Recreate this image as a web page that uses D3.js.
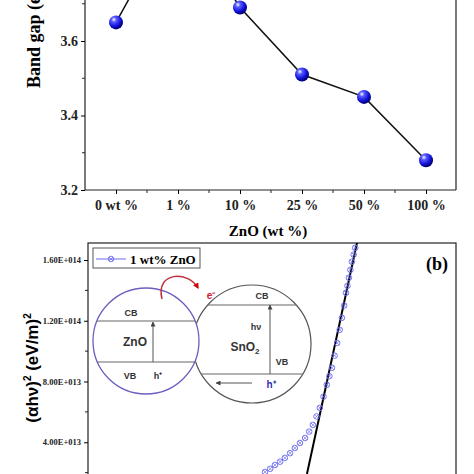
<!DOCTYPE html><html><head><meta charset="utf-8">
<script src="https://cdn.jsdelivr.net/npm/d3@7"></script>
<style>body{margin:0;background:#fff}</style></head><body><svg id="c" width="474" height="474"></svg>
<script>
const categories=["0 wt %","1 %","10 %","25 %","50 %","100 %"];
const bandGap=[3.65,3.95,3.69,3.51,3.45,3.28];
const yTicksA=[3.2,3.4,3.6];
const energy=[3.481,3.495,3.508,3.522,3.535,3.549,3.562,3.576,3.590,3.601,3.611,3.621,3.630,3.640,3.649,3.656,3.663,3.670,3.677,3.684,3.690,3.696,3.701,3.705,3.709,3.713,3.717,3.722,3.726];
const absorb=[2.04,2.25,2.50,2.72,2.97,3.28,3.62,3.95,4.28,4.70,5.14,5.70,6.26,7.00,7.78,8.35,8.90,9.70,10.54,11.40,12.19,13.00,13.84,14.30,14.83,15.35,15.88,16.35,16.80].map(v=>v*1e13);
const fitE=[3.595,3.731], fitY=[1.91e13,17.13e13];
const yTicksB=[4e13,8e13,1.2e14,1.6e14];
const yTickLabelsB=["4.00E+013","8.00E+013","1.20E+014","1.60E+014"];

const svg=d3.select("#c");
const serif="Liberation Serif, Times New Roman, serif", sans="Liberation Sans, Arial, sans-serif";
const x=d3.scalePoint().domain(categories).range([116,426]);
const y=d3.scaleLinear().domain([3.2,3.6]).range([190,41]);
const ga=svg.append("g");
ga.append("line").attr("x1",85).attr("x2",85).attr("y1",0).attr("y2",190).attr("stroke","#222").attr("stroke-width",1.2);
ga.append("line").attr("x1",456).attr("x2",456).attr("y1",0).attr("y2",190).attr("stroke","#222").attr("stroke-width",1.2);
const xa=ga.append("g").attr("transform","translate(0,190)").call(d3.axisBottom(x).tickSize(4).tickSizeOuter(0));
xa.select(".domain").attr("d","M85,0H456").attr("stroke","#222").attr("stroke-width",1.2);
xa.selectAll("text").attr("font-family",serif).attr("font-weight","bold").attr("font-size",14).attr("dy","0.9em").attr("fill","#222");
[147,209,271,333,395].forEach(px=>ga.append("line").attr("x1",px).attr("x2",px).attr("y1",190).attr("y2",193).attr("stroke","#222"));
const ya=ga.append("g").attr("transform","translate(85,0)").call(d3.axisLeft(y).tickValues(yTicksA).tickFormat(d3.format(".1f")).tickSize(4));
ya.select(".domain").remove();
ya.selectAll("text").attr("font-family",serif).attr("font-weight","bold").attr("font-size",14).attr("fill","#222");
[3.3,3.5,3.7].forEach(v=>ga.append("line").attr("x1",82).attr("x2",85).attr("y1",y(v)).attr("y2",y(v)).attr("stroke","#222"));
const defs=svg.append("defs");
const rg=defs.append("radialGradient").attr("id","ball").attr("cx","35%").attr("cy","30%").attr("r","70%");
rg.append("stop").attr("offset","0%").attr("stop-color","#fff");
rg.append("stop").attr("offset","25%").attr("stop-color","#5a5cff");
rg.append("stop").attr("offset","70%").attr("stop-color","#1010d8");
rg.append("stop").attr("offset","100%").attr("stop-color","#000070");
const pts=categories.map((c,i)=>[x(c),y(bandGap[i])]);
ga.append("path").attr("d",d3.line()(pts)).attr("fill","none").attr("stroke","#111").attr("stroke-width",1.5);
ga.selectAll("circle").data(pts).join("circle").attr("cx",d=>d[0]).attr("cy",d=>d[1]).attr("r",7).attr("fill","url(#ball)");
svg.append("text").attr("x",268).attr("y",236).attr("text-anchor","middle").attr("font-family",serif).attr("font-weight","bold").attr("font-size",15).text("ZnO (wt %)");
svg.append("text").attr("transform","translate(40,88) rotate(-90)").attr("text-anchor","start").attr("font-family",serif).attr("font-weight","bold").attr("font-size",18).text("Band gap (eV)");

const xb=d3.scaleLinear().domain([3.0,4.0]).range([88,456]);
const yb=d3.scaleLinear().domain([0,1.6e14]).range([503,260]);
const gb=svg.append("g");
defs.append("clipPath").attr("id","pb").append("rect").attr("x",88).attr("y",243).attr("width",368).attr("height",240);
gb.append("rect").attr("x",88).attr("y",243).attr("width",368).attr("height",260).attr("fill","none").attr("stroke","#222").attr("stroke-width",1.2);
const yba=gb.append("g").attr("transform","translate(88,0)").call(d3.axisLeft(yb).tickValues(yTicksB).tickFormat((d,i)=>yTickLabelsB[i]).tickSize(4));
yba.select(".domain").remove();
yba.selectAll("text").attr("font-family",serif).attr("font-weight","bold").attr("font-size",8.5).attr("fill","#222");
[2e13,6e13,1e14,1.4e14].forEach(v=>gb.append("line").attr("x1",85).attr("x2",88).attr("y1",yb(v)).attr("y2",yb(v)).attr("stroke","#222"));
const cg=gb.append("g").attr("clip-path","url(#pb)");
cg.append("path").attr("d",d3.line()(fitE.map((e,i)=>[xb(e),yb(fitY[i])]))).attr("stroke","#000").attr("stroke-width",2);
function marker(g,cx,cy){g.append("circle").attr("cx",cx).attr("cy",cy).attr("r",2.8).attr("fill","none").attr("stroke","#6b6bf0").attr("stroke-width",0.9);
 g.append("path").attr("d",`M${cx-2},${cy-2}L${cx+2},${cy+2}M${cx+2},${cy-2}L${cx-2},${cy+2}`).attr("stroke","#6b6bf0").attr("stroke-width",0.7);}
energy.forEach((e,i)=>marker(cg,xb(e),yb(absorb[i])));
gb.append("rect").attr("x",93).attr("y",248).attr("width",107).attr("height",20).attr("fill","#fff").attr("stroke","#555");
gb.append("line").attr("x1",96).attr("x2",126).attr("y1",259).attr("y2",259).attr("stroke","#6b6bf0");
marker(gb,111,259);
gb.append("text").attr("x",130).attr("y",264).attr("font-family",serif).attr("font-weight","bold").attr("font-size",13).text("1 wt% ZnO");
gb.append("text").attr("x",448).attr("y",270).attr("text-anchor","end").attr("font-family",serif).attr("font-weight","bold").attr("font-size",18).text("(b)");
svg.append("text").attr("transform","translate(38,368) rotate(-90)").attr("text-anchor","middle").attr("font-family",sans).attr("font-weight","bold").attr("font-size",17)
 .html('(αhν)<tspan dy="-7" font-size="10">2</tspan><tspan dy="7"> (eV/m)</tspan><tspan dy="-7" font-size="10">2</tspan>');
const ins=gb.append("g");
defs.append("clipPath").attr("id","c1").append("circle").attr("cx",146).attr("cy",341).attr("r",53);
defs.append("clipPath").attr("id","c2").append("circle").attr("cx",252).attr("cy",344).attr("r",59);
ins.append("circle").attr("cx",252).attr("cy",344).attr("r",59).attr("fill","#fff").attr("stroke","#555").attr("stroke-width",1.2);
ins.append("circle").attr("cx",146).attr("cy",341).attr("r",53).attr("fill","#fff").attr("stroke","#6a5fc0").attr("stroke-width",1.3);
const l1=ins.append("g").attr("clip-path","url(#c1)");
[321,362].forEach(yy=>l1.append("line").attr("x1",90).attr("x2",200).attr("y1",yy).attr("y2",yy).attr("stroke","#666"));
const l2=ins.append("g").attr("clip-path","url(#c2)");
[305,374].forEach(yy=>l2.append("line").attr("x1",190).attr("x2",315).attr("y1",yy).attr("y2",yy).attr("stroke","#666"));
defs.append("marker").attr("id","ah").attr("viewBox","0 0 10 10").attr("refX",9).attr("refY",5).attr("markerWidth",5).attr("markerHeight",5).attr("orient","auto").append("path").attr("d","M0,0L10,5L0,10z").attr("fill","#444");
ins.append("line").attr("x1",153).attr("x2",153).attr("y1",362).attr("y2",322).attr("stroke","#555").attr("marker-end","url(#ah)");
ins.append("line").attr("x1",270).attr("x2",270).attr("y1",374).attr("y2",305).attr("stroke","#555").attr("marker-end","url(#ah)");
ins.append("line").attr("x1",252).attr("x2",216).attr("y1",383).attr("y2",383).attr("stroke","#555").attr("marker-end","url(#ah)");
defs.append("marker").attr("id","ar").attr("viewBox","0 0 10 10").attr("refX",8).attr("refY",5).attr("markerWidth",4).attr("markerHeight",4).attr("orient","auto").append("path").attr("d","M0,0L10,5L0,10z").attr("fill","#c00");
ins.append("path").attr("d","M162,299C155,272 188,270 198,288").attr("fill","none").attr("stroke","#c0303a").attr("stroke-width",1.5).attr("marker-end","url(#ar)");
const t=(xx,yy,s,col,fs)=>ins.append("text").attr("x",xx).attr("y",yy).attr("font-family",sans).attr("font-size",fs||9).attr("font-weight","bold").attr("fill",col||"#333").attr("text-anchor","middle").text(s);
t(131,316,"CB");t(135,346,"ZnO","#333",12);t(130,379,"VB");t(158,379,"h⁺");
t(211,299,"e⁻","#d02030",10);t(262,299,"CB");t(256,330,"hν");t(282,365,"VB");t(271,388,"h⁺","#3030b0",10);
ins.append("text").attr("x",245).attr("y",351).attr("font-family",sans).attr("font-size",12).attr("font-weight","bold").attr("fill","#333").attr("text-anchor","middle").html('SnO<tspan dy="3" font-size="8">2</tspan>');
</script></body></html>
